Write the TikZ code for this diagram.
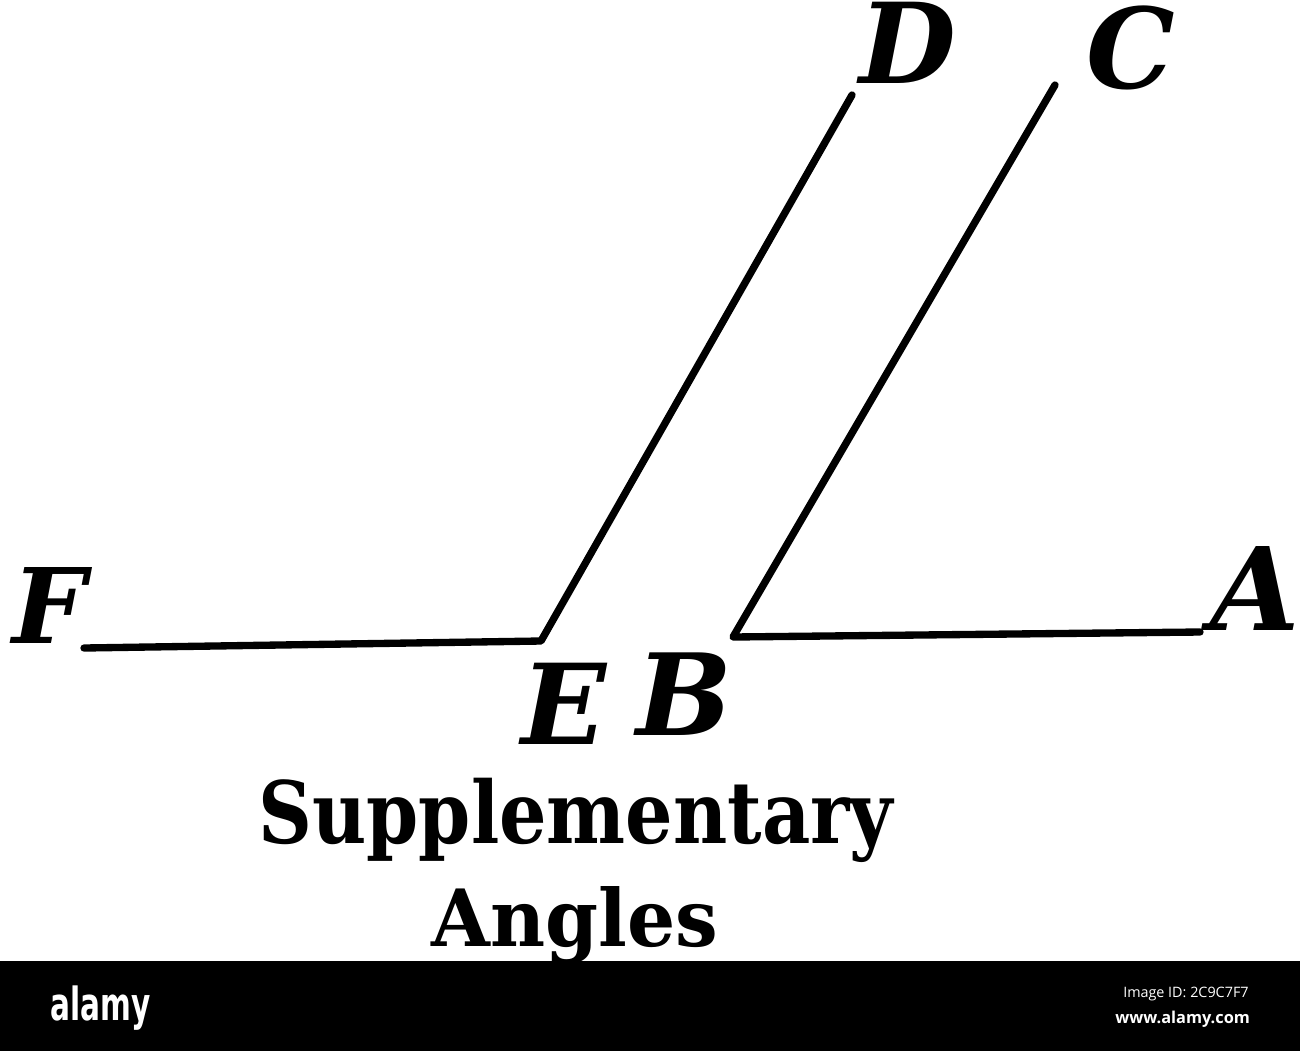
\documentclass[tikz,border=0pt]{standalone}
\usepackage{fontspec}
\setmainfont{DejaVu Serif}
\newfontfamily\labelfont{DejaVu Serif}[BoldItalicFont={DejaVu Serif Bold Italic}]
\newfontfamily\capfont{DejaVu Serif}
\newfontfamily\wmfont{DejaVu Sans Condensed}
\newfontfamily\wmsmall{Open Sans}
\begin{document}
\begin{tikzpicture}[x=0.75pt,y=-0.75pt,
  ray/.style={line width=5.5pt,line cap=round,line join=round},
  lbl/.style={inner sep=0pt,anchor=center},
  captext/.style={inner sep=0pt,anchor=base},
  wmtext/.style={inner sep=0pt,anchor=base west,text=white}]
\useasboundingbox (0,0) rectangle (1300,1051);
% corner points
\coordinate (Fend) at (84,648);
\coordinate (E) at (541,641);
\coordinate (Dend) at (852,95);
\coordinate (B) at (733,637);
\coordinate (Cend) at (1055,85);
\coordinate (Aend) at (1200,632);
\draw[ray] (Fend) -- (E) -- (Dend);
\draw[ray] (Cend) -- (B) -- (Aend);
% labels
\node[lbl] (lF) at (50,605) {\resizebox{!}{57pt}{\labelfont\bfseries\itshape F}};
\node[lbl] (lA) at (1255,588) {\resizebox{!}{63pt}{\labelfont\bfseries\itshape A}};
\node[lbl] (lD) at (908,43) {\resizebox{!}{61pt}{\labelfont\bfseries\itshape D}};
\node[lbl] (lC) at (1131,48) {\resizebox{!}{62pt}{\labelfont\bfseries\itshape C}};
\node[lbl] (lE) at (564,704) {\resizebox{!}{61pt}{\labelfont\bfseries\itshape E}};
\node[lbl] (lB) at (684,694) {\resizebox{!}{62pt}{\labelfont\bfseries\itshape B}};
% caption
\node[captext] (t1) at (576,843) {\resizebox{476pt}{49pt}{\capfont\bfseries Supplementary}};
\node[captext] (t2) at (575,946) {\resizebox{215pt}{45pt}{\capfont\bfseries Angles}};
% watermark band
\fill[black] (0,961) rectangle (1300,1051);
\node[wmtext] (wm1) at (50,1020) {\resizebox{75pt}{26pt}{\wmfont\bfseries alamy}};
\node[wmtext] (wm2) at (1123,997) {\resizebox{94pt}{!}{\wmsmall Image ID: 2C9C7F7}};
\node[wmtext] (wm3) at (1115,1023) {\resizebox{101pt}{!}{\wmsmall\bfseries www.alamy.com}};
\end{tikzpicture}
\end{document}
